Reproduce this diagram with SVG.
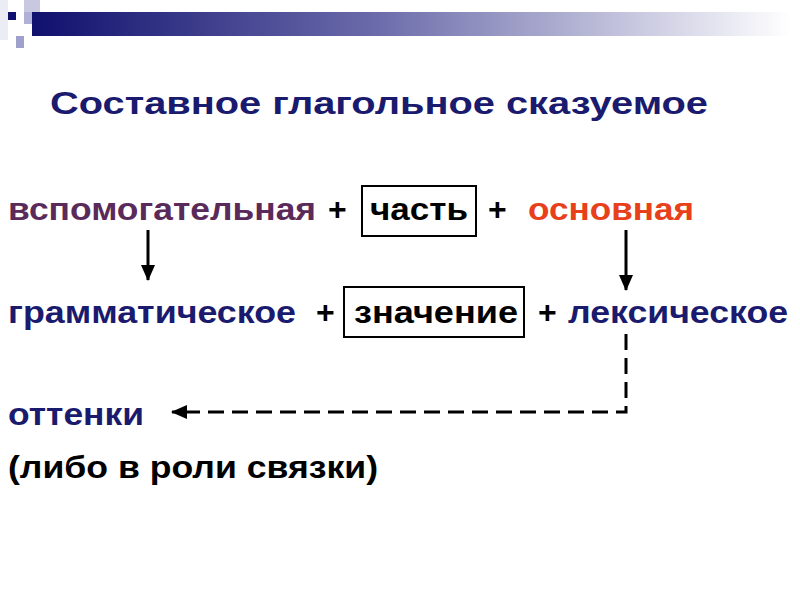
<svg xmlns="http://www.w3.org/2000/svg" width="800" height="600" viewBox="0 0 800 600">
<defs>
<linearGradient id="bar" x1="0" x2="1" y1="0" y2="0"><stop offset="0" stop-color="#10106e"/><stop offset="0.45" stop-color="#6a6aaa"/><stop offset="1" stop-color="#ffffff"/></linearGradient>
<marker id="ah" markerWidth="16" markerHeight="14" refX="15" refY="7" orient="auto" markerUnits="userSpaceOnUse"><path d="M0,0 L16,7 L0,14 z" fill="#000"/></marker>
</defs>
<style>
text{font-family:"Liberation Sans",Arial,sans-serif;font-weight:bold;font-size:32px}
.nv{fill:#1a1a6e}.pu{fill:#5a2a5a}.rd{fill:#e8401a}.bk{fill:#000}
.box{fill:none;stroke:#000;stroke-width:2}
.ln{stroke:#000;stroke-width:3;fill:none}
</style>
<rect width="800" height="600" fill="#fff"/>
<g id="decor">
<rect x="32" y="12" width="758" height="24" fill="url(#bar)"/>
<rect x="8" y="12" width="8" height="8" fill="#10106e"/>
<rect x="24" y="0" width="16" height="12" fill="#c8c8e0"/>
<rect x="24" y="12" width="8" height="12" fill="#b0b0d8"/>
<rect x="16" y="36" width="8" height="12" fill="#a0a0cc"/>
<rect x="0" y="0" width="8" height="40" fill="#ececf4"/>
</g>
<g id="title"><text x="50" y="114" class="nv" font-size="34" textLength="658" lengthAdjust="spacingAndGlyphs">Составное глагольное сказуемое</text></g>
<g id="row1">
<text x="8" y="220" class="pu" textLength="308" lengthAdjust="spacingAndGlyphs">вспомогательная</text>
<text x="328" y="220" class="bk">+</text>
<rect class="box" x="362" y="186" width="114" height="50"/>
<text x="370" y="220" class="bk" textLength="98" lengthAdjust="spacingAndGlyphs">часть</text>
<text x="488" y="220" class="bk">+</text>
<text x="528" y="220" class="rd" textLength="166" lengthAdjust="spacingAndGlyphs">основная</text>
</g>
<g id="row2">
<text x="8" y="323" class="nv" textLength="288" lengthAdjust="spacingAndGlyphs">грамматическое</text>
<text x="316" y="323" class="bk">+</text>
<rect class="box" x="344" y="287" width="180" height="50"/>
<text x="354" y="323" class="bk" textLength="164" lengthAdjust="spacingAndGlyphs">значение</text>
<text x="538" y="323" class="bk">+</text>
<text x="568" y="323" class="nv" textLength="220" lengthAdjust="spacingAndGlyphs">лексическое</text>
</g>
<g id="row3">
<text x="8" y="425" class="nv" textLength="136" lengthAdjust="spacingAndGlyphs">оттенки</text>
<text x="8" y="478" class="bk" textLength="370" lengthAdjust="spacingAndGlyphs">(либо в роли связки)</text>
</g>
<g id="connectors">
<line class="ln" x1="148" y1="230" x2="148" y2="280" marker-end="url(#ah)"/>
<line class="ln" x1="626" y1="230" x2="626" y2="290" marker-end="url(#ah)"/>
<path class="ln" d="M626,334 V412 H172" stroke-dasharray="16,8" marker-end="url(#ah)"/>
</g>
</svg>
